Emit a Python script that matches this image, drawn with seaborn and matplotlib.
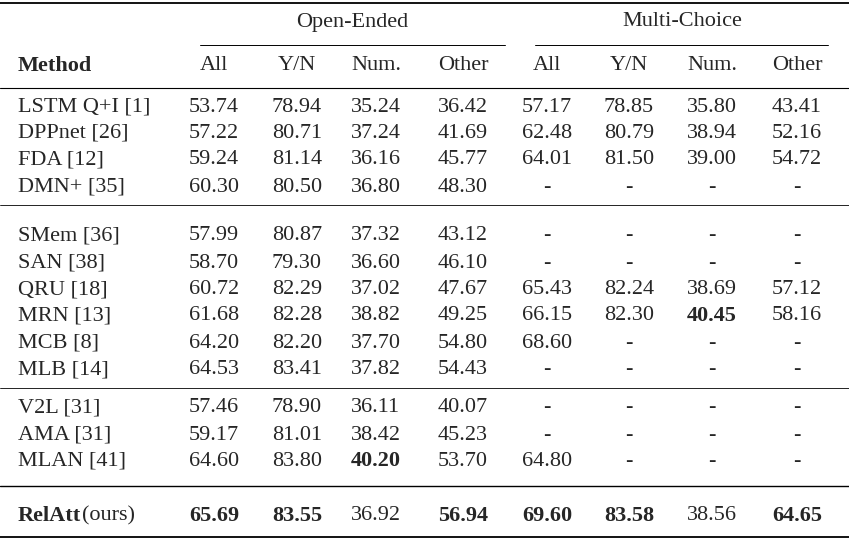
import matplotlib
matplotlib.use("Agg")
import matplotlib.pyplot as plt
import seaborn as sns

sns.set_theme(style="white")
plt.rcParams['font.family'] = ['Liberation Serif', 'DejaVu Serif']

methods = ["LSTM Q+I [1]", "DPPnet [26]", "FDA [12]", "DMN+ [35]",
           "SMem [36]", "SAN [38]", "QRU [18]", "MRN [13]", "MCB [8]", "MLB [14]",
           "V2L [31]", "AMA [31]", "MLAN [41]", "RelAtt"]
columns = ["All", "Y/N", "Num.", "Other", "All", "Y/N", "Num.", "Other"]
groups = ["Open-Ended", "Multi-Choice"]
values = [
    ["53.74", "78.94", "35.24", "36.42", "57.17", "78.85", "35.80", "43.41"],
    ["57.22", "80.71", "37.24", "41.69", "62.48", "80.79", "38.94", "52.16"],
    ["59.24", "81.14", "36.16", "45.77", "64.01", "81.50", "39.00", "54.72"],
    ["60.30", "80.50", "36.80", "48.30", "-", "-", "-", "-"],
    ["57.99", "80.87", "37.32", "43.12", "-", "-", "-", "-"],
    ["58.70", "79.30", "36.60", "46.10", "-", "-", "-", "-"],
    ["60.72", "82.29", "37.02", "47.67", "65.43", "82.24", "38.69", "57.12"],
    ["61.68", "82.28", "38.82", "49.25", "66.15", "82.30", "40.45", "58.16"],
    ["64.20", "82.20", "37.70", "54.80", "68.60", "-", "-", "-"],
    ["64.53", "83.41", "37.82", "54.43", "-", "-", "-", "-"],
    ["57.46", "78.90", "36.11", "40.07", "-", "-", "-", "-"],
    ["59.17", "81.01", "38.42", "45.23", "-", "-", "-", "-"],
    ["64.60", "83.80", "40.20", "53.70", "64.80", "-", "-", "-"],
    ["65.69", "83.55", "36.92", "56.94", "69.60", "83.58", "38.56", "64.65"],
]
bold_cells = {(7, 6), (12, 2), (13, 0), (13, 1), (13, 3), (13, 4), (13, 5), (13, 7)}

fig = plt.figure(figsize=(8.49, 5.4), dpi=100)
ax = fig.add_axes([0, 0, 1, 1])
ax.set_xlim(0, 849); ax.set_ylim(540, 0); ax.axis("off")

colx = [214, 297, 376, 463, 547, 629, 712, 797]
fs = 16
row_y = [107, 133, 160, 187, 236, 263, 290, 316, 343, 370, 408, 435, 461, 516]

ax.plot([0, 849], [3, 3], color="black", lw=1.3)
ax.text(352, 22, groups[0], ha="center", va="center", fontsize=fs)
ax.text(682, 22, groups[1], ha="center", va="center", fontsize=fs)
ax.plot([200, 505], [45, 45], color="black", lw=0.7)
ax.plot([535, 828], [45, 45], color="black", lw=0.7)
ax.text(18, 66, "Method", ha="left", va="center", fontsize=fs, fontweight="bold")
for x, c in zip(colx, columns):
    ax.text(x, 66, c, ha="center", va="center", fontsize=fs)
ax.plot([0, 849], [88, 88], color="black", lw=0.8)
ax.plot([0, 849], [205, 205], color="black", lw=0.6)
ax.plot([0, 849], [388, 388], color="black", lw=0.6)
ax.plot([0, 849], [486, 486], color="black", lw=1.0)
ax.plot([0, 849], [537, 537], color="black", lw=1.3)

for i, (m, y) in enumerate(zip(methods, row_y)):
    if m == "RelAtt":
        ax.text(18, y, m, ha="left", va="center", fontsize=fs, fontweight="bold")
        ax.text(82, y, "(ours)", ha="left", va="center", fontsize=fs)
    else:
        ax.text(18, y, m, ha="left", va="center", fontsize=fs)
    for j, (x, v) in enumerate(zip(colx, values[i])):
        ax.text(x, y, v, ha="center", va="center", fontsize=fs,
                fontweight="bold" if (i, j) in bold_cells else "normal")

fig.savefig("out.png", dpi=100)
